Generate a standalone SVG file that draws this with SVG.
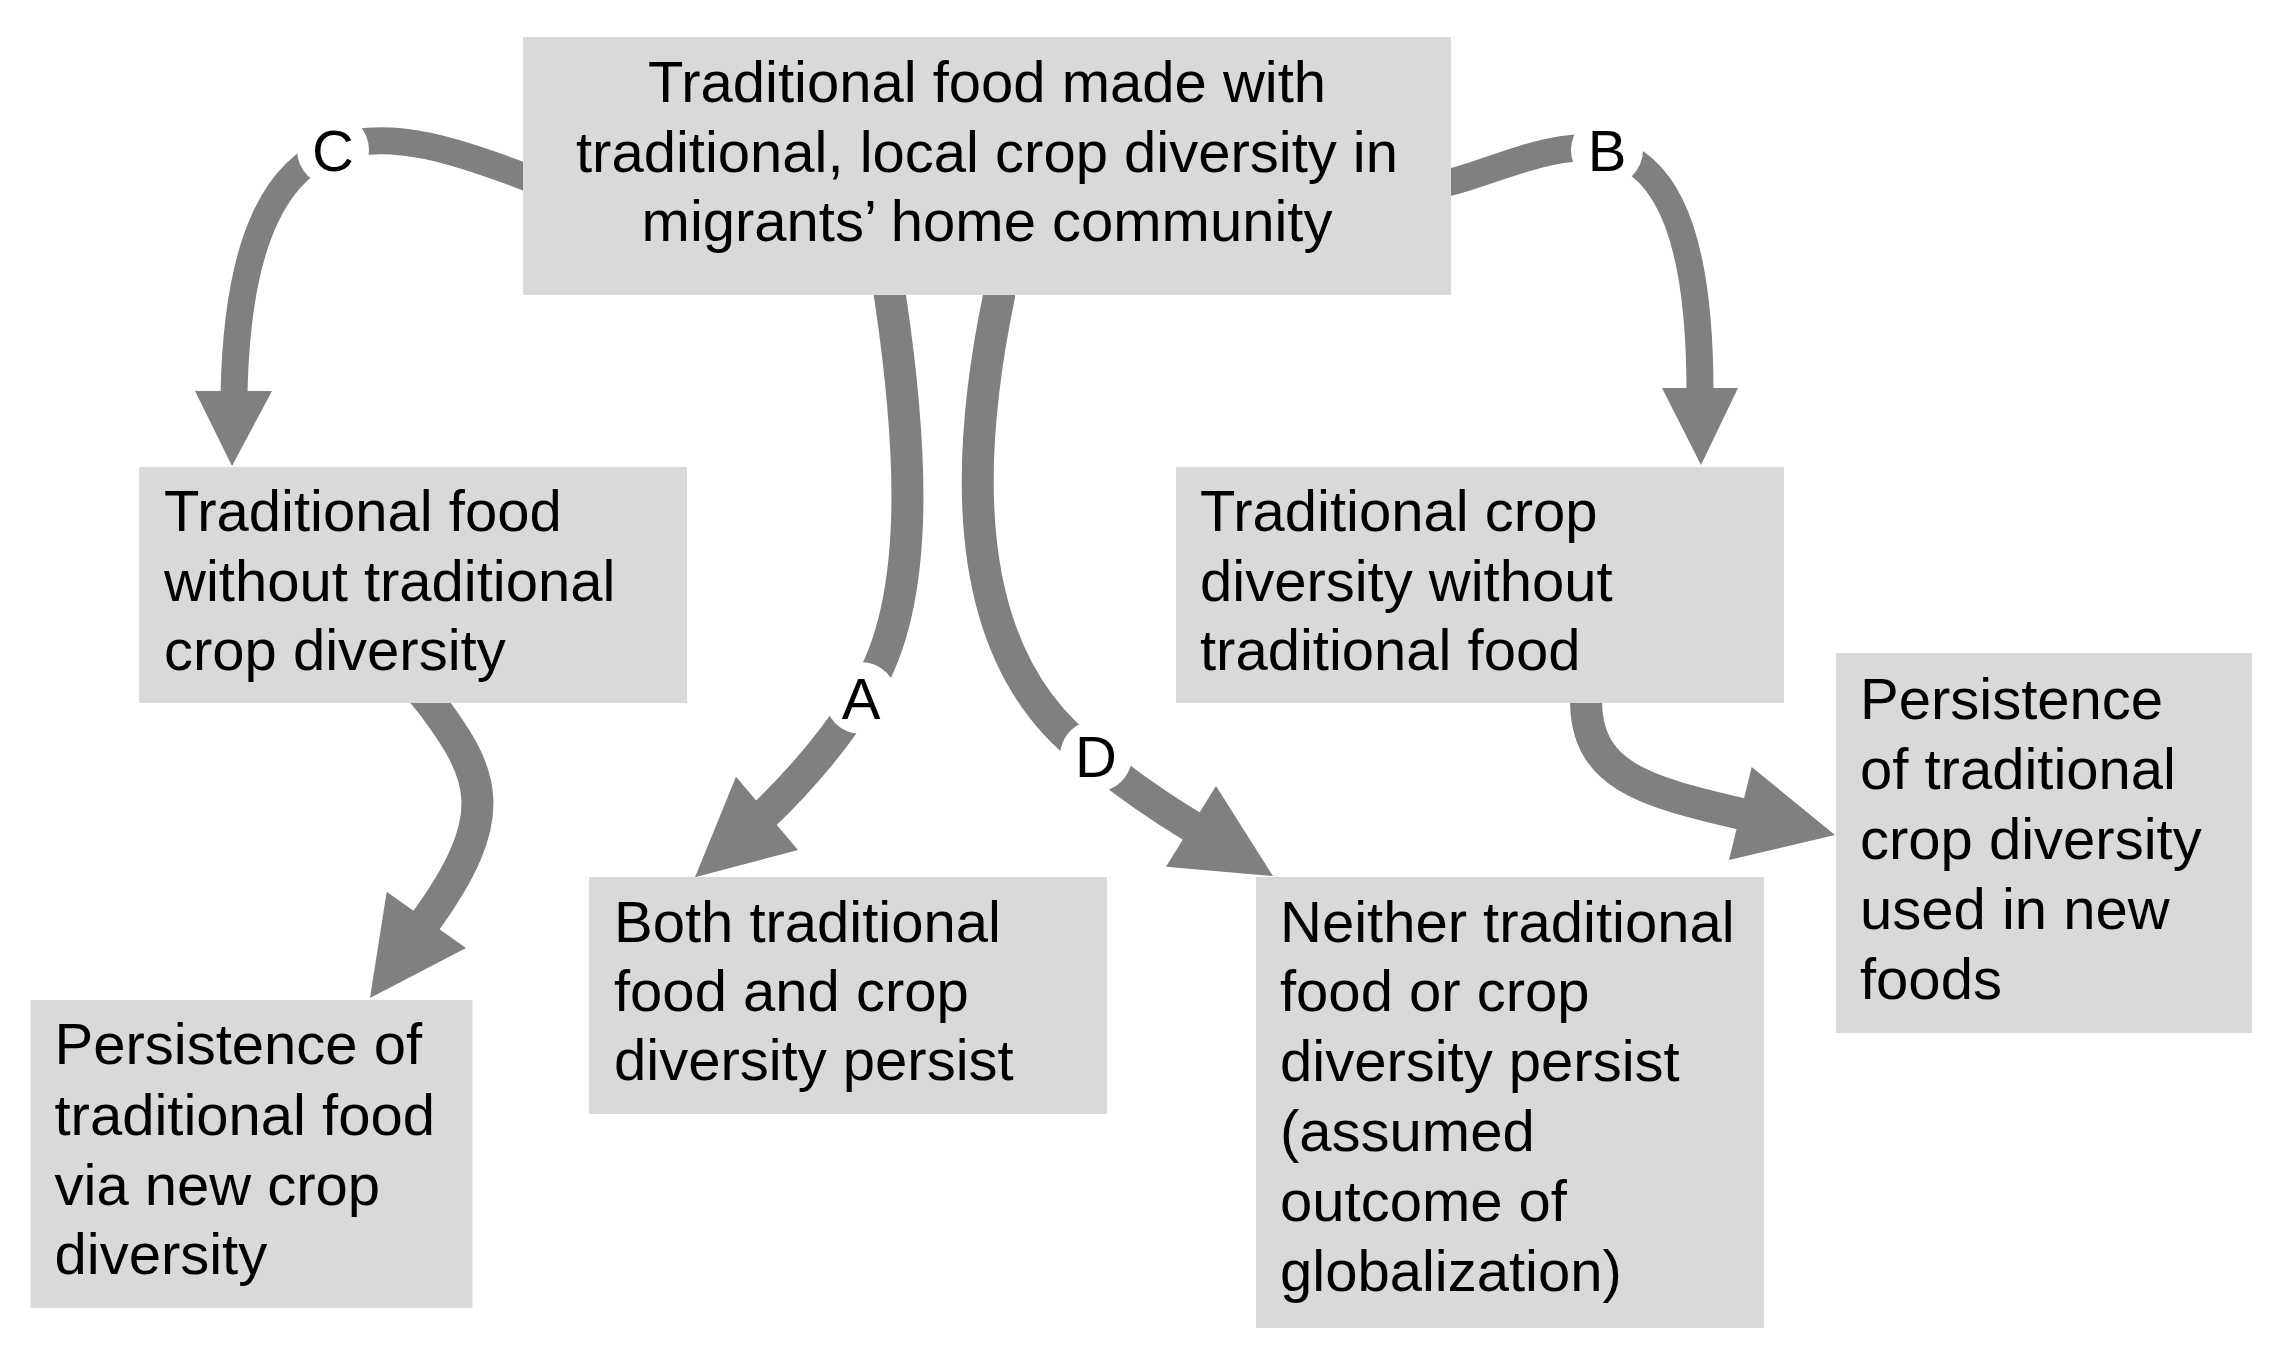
<svg xmlns="http://www.w3.org/2000/svg" width="2279" height="1358" viewBox="0 0 2279 1358">
<style>
.box{fill:#d9d9d9}
.t{font-family:"Liberation Sans",Arial,Helvetica,sans-serif;font-size:58px;fill:#000}
.mid{text-anchor:middle}
.shaft{fill:none;stroke:#808080;stroke-linecap:butt;stroke-linejoin:round}
.thin{stroke-width:27}
.thick{stroke-width:32}
.head{fill:#808080}
.halo{fill:#fff}
.lbl{font-family:"Liberation Sans",Arial,Helvetica,sans-serif;font-size:58px;fill:#000;text-anchor:middle}
</style>
<rect width="2279" height="1358" fill="#fff"/>
<g id="connectors">
  <path class="shaft thin" d="M 534 180 L 523 176 C 400 130 240 75 234 395"/>
  <polygon class="head" points="195,391 272,391 232,466"/>
  <path class="shaft thin" d="M 1439 185 L 1451 182 C 1540 160 1700 50 1700 392"/>
  <polygon class="head" points="1662,388 1738,388 1701,465"/>
  <path class="shaft thick" d="M 888 285 L 890 296 C 913 450 922 610 861 698 Q 822 760 760 819"/>
  <polygon class="head" points="736,776.7 798,850 695,877.3"/>
  <path class="shaft thick" d="M 1000 285 L 999 296 C 965 460 955 660 1096 759 Q 1140 795 1196 829"/>
  <polygon class="head" points="1216,786 1166,866.7 1273,876"/>
  <path class="shaft thick" d="M 423 693 L 431 703 C 485 775 503 815 424 923.5"/>
  <polygon class="head" points="386.7,891.7 466,948 370,998"/>
  <path class="shaft thick" d="M 1586 690 L 1586 700 C 1586 775 1642 791 1744 814.5"/>
  <polygon class="head" points="1751.7,767 1729,860 1835,835"/>
  <g id="labels">
    <circle class="halo" cx="333" cy="150" r="36"/>
    <text class="lbl" x="333" y="171">C</text>
    <circle class="halo" cx="1607" cy="150" r="36"/>
    <text class="lbl" x="1607" y="171">B</text>
    <circle class="halo" cx="861" cy="698" r="36"/>
    <text class="lbl" x="861" y="719">A</text>
    <circle class="halo" cx="1096" cy="756" r="36"/>
    <text class="lbl" x="1096" y="777">D</text>
  </g>
</g>
<g id="n_top">
  <rect class="box" x="523" y="37" width="928" height="258"/>
  <text class="t mid" x="987" y="102">Traditional food made with</text>
  <text class="t mid" x="987" y="172">traditional, local crop diversity in</text>
  <text class="t mid" x="987" y="241">migrants’ home community</text>
</g>
<g id="n_food_without_crop">
  <rect class="box" x="139" y="467" width="548" height="236"/>
  <text class="t" x="164" y="531">Traditional food</text>
  <text class="t" x="164" y="600.5">without traditional</text>
  <text class="t" x="164" y="670">crop diversity</text>
</g>
<g id="n_crop_without_food">
  <rect class="box" x="1176" y="467" width="608" height="236"/>
  <text class="t" x="1200" y="531">Traditional crop</text>
  <text class="t" x="1200" y="600.5">diversity without</text>
  <text class="t" x="1200" y="670">traditional food</text>
</g>
<g id="n_persist_food">
  <rect class="box" x="30.5" y="1000" width="442" height="308"/>
  <text class="t" x="54.5" y="1064">Persistence of</text>
  <text class="t" x="54.5" y="1134.5">traditional food</text>
  <text class="t" x="54.5" y="1204.5">via new crop</text>
  <text class="t" x="54.5" y="1274">diversity</text>
</g>
<g id="n_both">
  <rect class="box" x="589" y="877" width="518" height="237"/>
  <text class="t" x="614" y="941.5">Both traditional</text>
  <text class="t" x="614" y="1011">food and crop</text>
  <text class="t" x="614" y="1080">diversity persist</text>
</g>
<g id="n_neither">
  <rect class="box" x="1256" y="877" width="508" height="451"/>
  <text class="t" x="1280" y="941.5">Neither traditional</text>
  <text class="t" x="1280" y="1011">food or crop</text>
  <text class="t" x="1280" y="1080.5">diversity persist</text>
  <text class="t" x="1280" y="1151">(assumed</text>
  <text class="t" x="1280" y="1221">outcome of</text>
  <text class="t" x="1280" y="1291">globalization)</text>
</g>
<g id="n_persist_crop">
  <rect class="box" x="1836" y="653" width="416" height="380"/>
  <text class="t" x="1860" y="718.5">Persistence</text>
  <text class="t" x="1860" y="789">of traditional</text>
  <text class="t" x="1860" y="859">crop diversity</text>
  <text class="t" x="1860" y="929">used in new</text>
  <text class="t" x="1860" y="999">foods</text>
</g>
</svg>
